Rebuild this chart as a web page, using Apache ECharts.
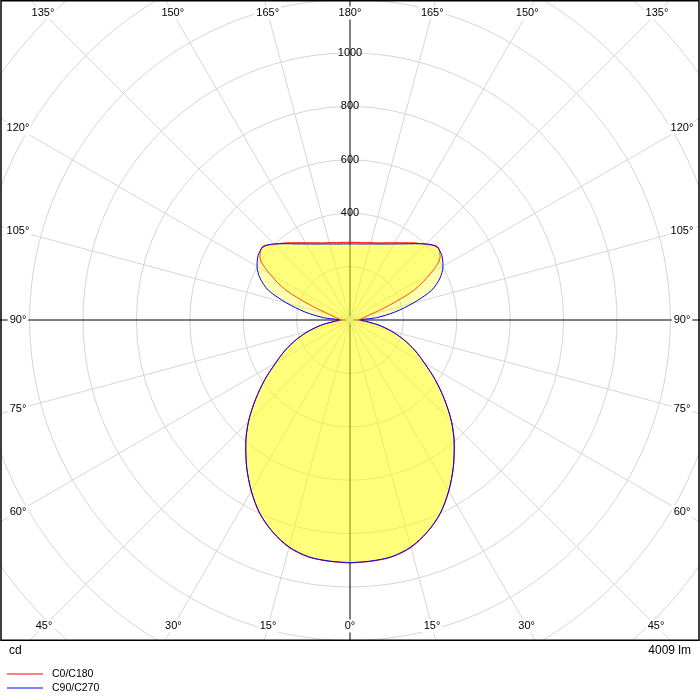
<!DOCTYPE html>
<html>
<head>
<meta charset="utf-8">
<script src="https://cdn.jsdelivr.net/npm/echarts@6/dist/echarts.min.js"></script>
<style>html,body{margin:0;padding:0;background:#fff}#c{width:700px;height:700px}</style>
</head>
<body>
<div id="c"></div>
<script>
// gamma angles (degrees from nadir) for one half-plane
const gammaAngles = [0,5,10,15,20,25,30,35,40,45,50,55,60,65,70,75,80,85,90,95,100,105,110,115,120,125,130,135,140,145,150,155,160,165,170,175,180];
// luminous intensity, cd
const c0c180  = [910,907,901,882,846,800,740,675,608,538,462,390,322,268,214,160,108,58,30,40,55,78,148,265,348,412,428,400,377,353,334,319,307,300,294,292,291];
const c90c270 = [909,906,900,880,845,799,739,674,607,537,461,389,321,267,213,160,108,59,40,100,170,245,325,372,402,420,425,403,373,348,329,314,303,295,289,286,285];
const seriesNames = ['C0/C180','C90/C270'];
const angleTicks = [0,15,30,45,60,75,90,105,120,135,150,165,180,195,210,225,240,255,270,285,300,315,330,345];
const radiusTickLabels = [400,600,800,1000];
const unitLabel = 'cd';
const fluxLabel = '4009 lm';

const FONT = '"Liberation Sans", Arial, sans-serif';
const CX = 350, CY = 320, RMAX = 1800, RPX = 480.6;

function loop(vals){
  const pts = [];
  gammaAngles.forEach((a,i)=>pts.push([vals[i], a]));
  for (let i = gammaAngles.length - 2; i >= 0; i--) pts.push([vals[i], 360 - gammaAngles[i]]);
  return pts;
}

const chart = echarts.init(document.getElementById('c'), null, {renderer:'canvas'});
const gray = '#d6d6d6';
chart.setOption({
  animation:false,
  backgroundColor:'#fff',
  polar:{center:[CX,CY], radius:RPX},
  angleAxis:{
    type:'value', min:0, max:360, interval:15, startAngle:270, clockwise:false,
    axisLine:{show:false}, axisTick:{show:false}, axisLabel:{show:false},
    splitLine:{show:true, lineStyle:{color:['#000',gray,gray,gray,gray,gray], width:1}}
  },
  radiusAxis:{
    type:'value', min:0, max:RMAX, interval:200,
    axisLine:{show:false}, axisTick:{show:false}, axisLabel:{show:false},
    splitLine:{show:true, lineStyle:{color:gray, width:1}}
  },
  legend:{
    orient:'vertical', left:7, top:667, padding:0, itemGap:0, itemWidth:36, itemHeight:1, z:60,
    icon:'rect',
    textStyle:{fontSize:10.5, fontFamily:FONT, color:'#000', lineHeight:14, padding:[0,0,0,4]},
    data:seriesNames
  },
  series:[
    {name:seriesNames[0], type:'line', coordinateSystem:'polar', data:loop(c0c180), symbol:'none', smooth:0.3, z:3,
     lineStyle:{color:'#ff0000', width:1}, itemStyle:{color:'#ff0000'}, areaStyle:{color:'#ffff00', opacity:0.3}},
    {name:seriesNames[1], type:'line', coordinateSystem:'polar', data:loop(c90c270), symbol:'none', smooth:0.3, z:4,
     lineStyle:{color:'#0000ff', width:1}, itemStyle:{color:'#0000ff'}, areaStyle:{color:'#ffff00', opacity:0.3}}
  ]
});

function toPx(r, a){
  let p = null;
  try { p = chart.convertToPixel({seriesIndex:0}, [r, a]); } catch(e) { p = null; }
  if (!p || isNaN(p[0])) {
    const rad = r / RMAX * RPX, t = a * Math.PI / 180;
    p = [CX + rad * Math.sin(t), CY + rad * Math.cos(t)];
  }
  return p;
}

const graphics = [];
// mask below the plot frame
graphics.push({type:'rect', z:50, shape:{x:0, y:641, width:700, height:59}, style:{fill:'#fff'}});
// plot frame
graphics.push({type:'rect', z:55, shape:{x:1, y:0.75, width:698, height:639.5}, style:{fill:'none', stroke:'#000', lineWidth:1.5}});
// angle labels on the inset frame
const c = toPx(0, 0);
const XMIN = 18, XMAX = 682, YMIN = 13, YMAX = 626;
angleTicks.forEach(a=>{
  const far = toPx(RMAX, a);
  const dx = (far[0] - c[0]), dy = (far[1] - c[1]);
  let t = Infinity;
  if (dx > 1e-6) t = Math.min(t, (XMAX - c[0]) / dx);
  if (dx < -1e-6) t = Math.min(t, (XMIN - c[0]) / dx);
  if (dy > 1e-6) t = Math.min(t, (YMAX - c[1]) / dy);
  if (dy < -1e-6) t = Math.min(t, (YMIN - c[1]) / dy);
  const lab = (a <= 180 ? a : 360 - a) + '°';
  graphics.push({type:'text', z:40, x:c[0] + dx * t, y:c[1] + dy * t,
    style:{text:lab, font:'11px ' + FONT, fill:'#000', align:'center', verticalAlign:'middle',
           backgroundColor:'#fff', padding:[1,2]}});
});
// radius labels along the 180° direction
radiusTickLabels.forEach(r=>{
  const p = toPx(r, 180);
  graphics.push({type:'text', z:2, x:p[0], y:p[1],
    style:{text:String(r), font:'11px ' + FONT, fill:'#000', align:'center', verticalAlign:'middle'}});
});
graphics.push({type:'text', z:60, x:9, y:651, style:{text:unitLabel, font:'12px ' + FONT, fill:'#000', align:'left', verticalAlign:'middle'}});
graphics.push({type:'text', z:60, x:691, y:651, style:{text:fluxLabel, font:'12px ' + FONT, fill:'#000', align:'right', verticalAlign:'middle'}});
chart.setOption({graphic:{elements:graphics}});
</script>
</body>
</html>
